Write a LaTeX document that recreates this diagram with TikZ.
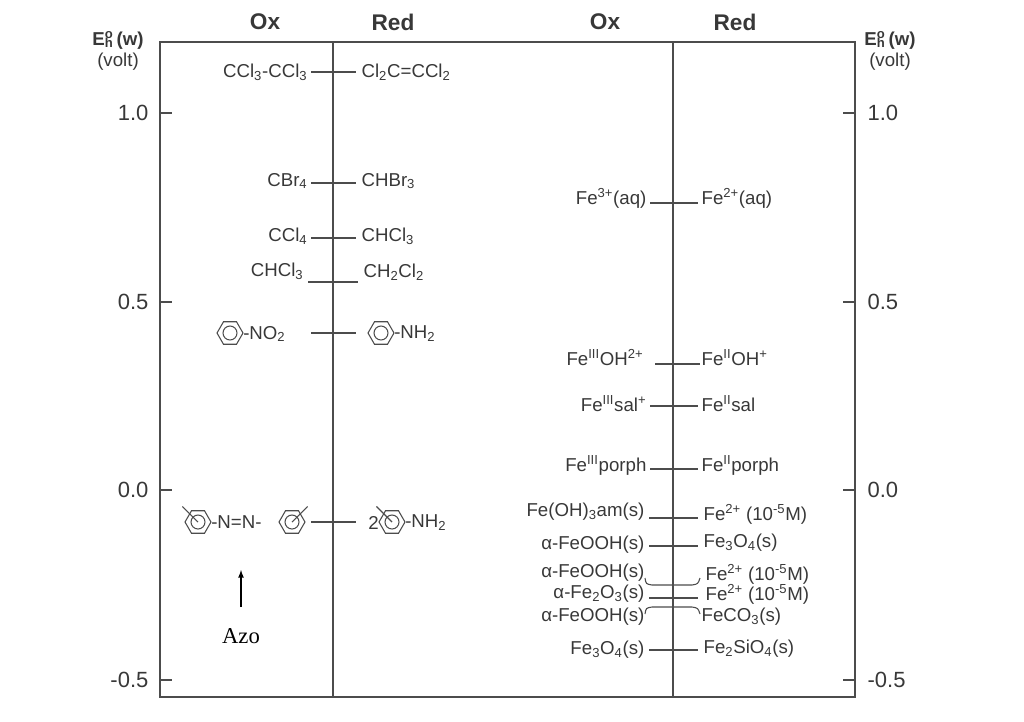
\documentclass[tikz,border=0pt]{standalone}
\usepackage{fontspec}
\setmainfont{Liberation Sans}
\newfontfamily\serifazo{Liberation Serif}
\newcommand\subx[1]{\textsubscript{#1}}
\newcommand\supx[1]{\textsuperscript{#1}}
\begin{document}
\begin{tikzpicture}[x=0.75pt,y=-0.75pt,
  every node/.style={text=black!78, inner sep=1pt, font=\fontsize{14}{16}\selectfont},
  ox/.style={anchor=east},
  red/.style={anchor=west},
  tick/.style={font=\fontsize{16.5}{18}\selectfont},
  head/.style={font=\fontsize{17}{19}\selectfont\bfseries},
  ln/.style={draw=black!70, line width=0.8pt}]
\useasboundingbox (0,0) rectangle (1024,721);
\newcommand\benz[1]{\draw[ln] #1 ++(13,0) -- ++(120:13) -- ++(180:13) -- ++(240:13) -- ++(300:13) -- ++(0:13) -- cycle; \draw[ln] #1 circle (7);}
% frame
\draw[ln] (160,680) -- (160,42) -- (855,42) -- (855,697) -- (160,697) -- cycle;
\draw[ln] (333,42) -- (333,697);
\draw[ln] (673,42) -- (673,697);
\foreach \y/\t in {113/1.0,302/0.5,490/0.0,680/-0.5}{
  \draw[ln] (160,\y) -- (172,\y); \draw[ln] (843,\y) -- (855,\y);
  \node[tick,anchor=east] at (150,\y) {\t};
  \node[tick,anchor=west] at (866,\y) {\t};
}
\node[head] (ox1) at (265,22) {Ox};
\node[head] (re1) at (393,22) {Red};
\node[head] (ox2) at (605,22) {Ox};
\node[head] (re2) at (735,22) {Red};
\node[font=\fontsize{14}{16}\selectfont\bfseries] (el) at (118,40) {E\rlap{\supx{o}}\subx{h}\,(w)};
\node (vl) at (118,62) {(volt)};
\node[font=\fontsize{14}{16}\selectfont\bfseries] (er) at (890,40) {E\rlap{\supx{o}}\subx{h}\,(w)};
\node (vr) at (890,62) {(volt)};
% left column
\node[ox] (a1) at (309,72) {CCl\subx{3}-CCl\subx{3}};
\node[red] (b1) at (360,72) {Cl\subx{2}C=CCl\subx{2}};
\draw[ln] (311,72) -- (356,72);
\node[ox] (a2) at (309,181) {CBr\subx{4}};
\node[red] (b2) at (360,181) {CHBr\subx{3}};
\draw[ln] (311,183) -- (356,183);
\node[ox] (a3) at (309,236) {CCl\subx{4}};
\node[red] (b3) at (360,236) {CHCl\subx{3}};
\draw[ln] (311,238) -- (356,238);
\node[ox] (a4) at (305,271) {CHCl\subx{3}};
\node[red] (b4) at (362,272) {CH\subx{2}Cl\subx{2}};
\draw[ln] (308,282) -- (358,282);
% nitrobenzene / aniline
\benz{(230,333)}
\node[anchor=west,inner sep=0pt] (a5) at (243,334) {-NO\subx{2}};
\draw[ln] (311,333) -- (356,333);
\benz{(381,333)}
\node[anchor=west,inner sep=0pt] (b5) at (394,334) {-NH\subx{2}};
% azo
\benz{(198,522)}
\draw[ln] (198,522) -- ++(-135:22);
\node[anchor=west,inner sep=0pt] (a6) at (211,522) {-N=N-};
\benz{(292,522)}
\draw[ln] (292,522) -- ++(-45:22);
\draw[ln] (311,522) -- (356,522);
\node[anchor=east,inner sep=0pt] (b6n) at (379,523) {2};
\benz{(392,522)}
\draw[ln] (392,522) -- ++(-135:22);
\node[anchor=west,inner sep=0pt] (b6) at (405,523) {-NH\subx{2}};
\node[font=\fontsize{17}{19}\selectfont\serifazo, text=black] (azo) at (241,636) {Azo};
\coordinate (azt) at (241,570);
\draw[-latex, line width=1pt] (241,607) -- (azt);
% right column
\node[ox] (c1) at (648,198) {Fe\supx{3+}(aq)};
\node[red] (d1) at (700,198) {Fe\supx{2+}(aq)};
\draw[ln] (650,203) -- (698,203);
\node[ox] (c2) at (645,358) {Fe\supx{III}OH\supx{2+}};
\node[red] (d2) at (700,358) {Fe\supx{II}OH\supx{+}};
\draw[ln] (655,364) -- (700,364);
\node[ox] (c3) at (648,404) {Fe\supx{III}sal\supx{+}};
\node[red] (d3) at (700,404) {Fe\supx{II}sal};
\draw[ln] (650,406) -- (698,406);
\node[ox] (c4) at (648,465) {Fe\supx{III}porph};
\node[red] (d4) at (700,465) {Fe\supx{II}porph};
\draw[ln] (650,469) -- (698,469);
\node[ox] (c5) at (646,512) {Fe(OH)\subx{3}am(s)};
\node[red] (d5) at (702,514) {Fe\supx{2+} (10\supx{-5}M)};
\draw[ln] (649,518) -- (698,518);
\node[ox] (c6) at (646,545) {α-FeOOH(s)};
\node[red] (d6) at (702,543) {Fe\subx{3}O\subx{4}(s)};
\draw[ln] (649,546) -- (698,546);
\node[ox] (c7) at (646,573) {α-FeOOH(s)};
\node[red] (d7) at (704,574) {Fe\supx{2+} (10\supx{-5}M)};
\node[ox] (c8) at (646,594) {α-Fe\subx{2}O\subx{3}(s)};
\node[red] (d8) at (704,594) {Fe\supx{2+} (10\supx{-5}M)};
\node[ox] (c9) at (646,617) {α-FeOOH(s)};
\node[red] (d9) at (700,617) {FeCO\subx{3}(s)};
\draw[ln] (645,578) .. controls (646,584) .. (652,585) -- (692,585) .. controls (698,584) .. (700,578);
\draw[ln] (649,598) -- (698,598);
\draw[ln] (645,614) .. controls (646,608) .. (652,607) -- (692,607) .. controls (698,608) .. (700,614);
\node[ox] (c10) at (646,650) {Fe\subx{3}O\subx{4}(s)};
\node[red] (d10) at (702,649) {Fe\subx{2}SiO\subx{4}(s)};
\draw[ln] (649,650) -- (698,650);
\end{tikzpicture}
\end{document}
